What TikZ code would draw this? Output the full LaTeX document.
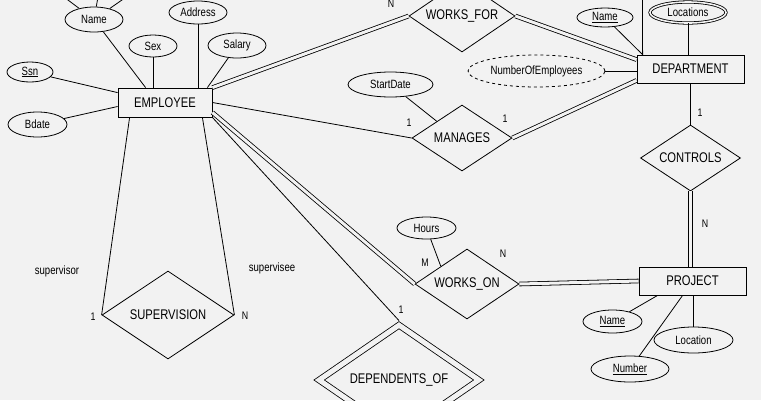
\documentclass[tikz,border=0pt]{standalone}
\usepackage{fontspec}
\setmainfont[FakeStretch=0.8]{Liberation Sans}
\usetikzlibrary{shapes.geometric}
\tikzset{
  ent/.style={draw, rectangle, inner sep=0pt, font=\fontsize{14}{16}\selectfont},
  rel/.style={draw, diamond, aspect=1.5, inner sep=0pt, font=\fontsize{14}{16}\selectfont},
  attr/.style={draw, ellipse, inner sep=0pt, font=\fontsize{12}{14}\selectfont},
  card/.style={inner sep=0pt, font=\fontsize{11}{13}\selectfont},
  role/.style={inner sep=0pt, font=\fontsize{12}{14}\selectfont},
  dbl/.style={double=black!5, double distance=3pt}
}
\begin{document}
\begin{tikzpicture}[x=1pt, y=-1pt, line width=0.8pt]
\fill[black!5] (0,0) rectangle (761,400);
\clip (0,0) rectangle (761,400);
\node[ent, minimum width=94pt, minimum height=29pt] (emp) at (165,102.5) {EMPLOYEE};
\node[ent, minimum width=107pt, minimum height=28pt] (dept) at (690.5,69) {DEPARTMENT};
\node[ent, minimum width=107pt, minimum height=28pt] (proj) at (692.5,281) {PROJECT};
\node[rel, minimum width=106pt, minimum height=72pt] (wf) at (462,16) {WORKS\_FOR};
\node[rel, minimum width=100pt, minimum height=66pt] (man) at (462,138) {MANAGES};
\node[rel, minimum width=100pt, minimum height=66pt] (ctrl) at (690.5,158) {CONTROLS};
\node[rel, minimum width=104pt, minimum height=70pt] (wo) at (467,284) {WORKS\_ON};
\node[rel, minimum width=132pt, minimum height=88pt] (sup) at (168,315) {SUPERVISION};
\node[rel, double=black!5, double distance=5pt, minimum width=160pt, minimum height=110pt] (dep) at (399,380) {DEPENDENTS\_OF};
\node[attr, minimum width=58pt, minimum height=25pt] (ename) at (94,19.5) {Name};
\node[attr, minimum width=48pt, minimum height=22pt] (sex) at (153,46) {Sex};
\node[attr, minimum width=58pt, minimum height=23pt] (addr) at (198,12.5) {Address};
\node[attr, minimum width=58pt, minimum height=25pt] (sal) at (237,45.5) {Salary};
\node[attr, minimum width=46pt, minimum height=20pt] (ssn) at (30,72) {\underline{Ssn}};
\node[attr, minimum width=59pt, minimum height=25pt] (bdate) at (37.5,124.5) {Bdate};
\node[attr, minimum width=56pt, minimum height=19pt] (dname) at (605,17.5) {\underline{Name}};
\node[attr, double=black!5, double distance=1.6pt, minimum width=76pt, minimum height=21pt] (loc) at (688,12.5) {Locations};
\node[attr, dashed, minimum width=137pt, minimum height=32pt] (noe) at (536.5,71) {NumberOfEmployees};
\node[attr, minimum width=85pt, minimum height=25pt] (sdate) at (390.5,84.5) {StartDate};
\node[attr, minimum width=59pt, minimum height=22pt] (hours) at (426.5,228) {Hours};
\node[attr, minimum width=59pt, minimum height=23pt] (pname) at (612.5,321.5) {\underline{Name}};
\node[attr, minimum width=78pt, minimum height=26pt] (pnum) at (630,369) {\underline{Number}};
\node[attr, minimum width=79pt, minimum height=26pt] (ploc) at (693.5,340) {Location};
\coordinate (fname) at (52,-12);
\coordinate (minit) at (101,-20);
\coordinate (lname) at (142,-14);
\coordinate (dnum) at (642.5,-20);
\draw (ename) -- (fname) (ename) -- (minit) (ename) -- (lname);
\draw (ename) -- ([xshift=28pt]emp.north west);
\draw (sex) -- (sex |- emp.north);
\draw (addr) -- (addr |- emp.north);
\draw (sal) -- ([xshift=-5pt]emp.north east);
\draw (ssn) -- ([yshift=-5pt]emp.north west);
\draw (bdate) -- ([yshift=-4pt]emp.west);
\draw[dbl] (emp.north east) -- (wf.west);
\draw[dbl] (wf.east) -- ([yshift=-5pt]dept.north west);
\draw (emp.east) -- (man.west);
\draw[dbl] (man.east) -- ([yshift=3pt]dept.south west);
\draw[dbl] ([yshift=-10pt]emp.east) -- (wo.west);
\draw[dbl] (wo.east) -- (proj.west);
\draw (emp.south east) -- ([yshift=4pt]dep.north);
\draw ([xshift=12pt]emp.south west) -- (sup.west);
\draw ([xshift=-10pt]emp.south east) -- (sup.east);
\draw (dname) -- ([xshift=6pt]dept.north west) -- (dnum);
\draw (loc) -- (loc |- dept.north);
\draw (noe) -- (noe -| dept.west);
\draw (dept.south) -- (ctrl.north);
\draw[dbl] (ctrl.south) -- (ctrl.south |- proj.north);
\draw (sdate) -- (man.north west);
\draw (hours) -- (wo.north west);
\draw (pname) -- ([xshift=19pt]proj.south west);
\draw (pnum) -- ([xshift=44pt]proj.south west);
\draw (ploc) -- (ploc |- proj.south);
\node[card] (c1) at (391,4) {N};
\node[card] (c2) at (409,123) {1};
\node[card] (c3) at (505,119) {1};
\node[card] (c4) at (700,113) {1};
\node[card] (c5) at (705,224) {N};
\node[card] (c6) at (425,263) {M};
\node[card] (c7) at (503,254) {N};
\node[card] (c8) at (401,310) {1};
\node[card] (c9) at (93,317) {1};
\node[card] (c10) at (245,316) {N};
\node[role] (r1) at (57,271) {supervisor};
\node[role] (r2) at (272,268) {supervisee};
\end{tikzpicture}
\end{document}
